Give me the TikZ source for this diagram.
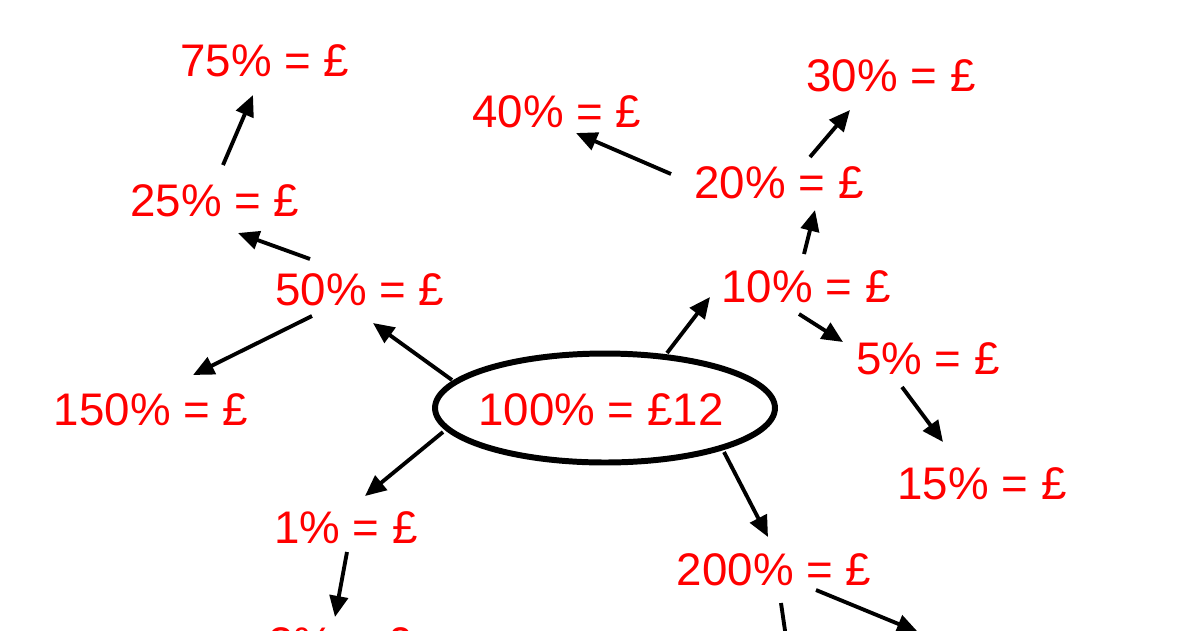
\documentclass[tikz,border=0pt]{standalone}
\usepackage{fontspec}
\setmainfont{Liberation Sans}
\usetikzlibrary{shapes.geometric,arrows.meta}

\begin{document}
\begin{tikzpicture}[x=0.02cm,y=-0.02cm,
    lbl/.style={text=red, font=\fontsize{26}{30}\selectfont, inner sep=0pt, outer sep=0pt},
    arr/.style={line width=2.2pt, -{Triangle[length=12pt,width=10.5pt]}}]
            \useasboundingbox (0,0) rectangle (1200,630);
            \clip (0,0) rectangle (1200,630);
            \node[ellipse, draw, line width=3.4pt, minimum width=6.8cm, minimum height=2.18cm, inner sep=0pt] (whole) at (605,408) {};
            \node[lbl] (hundred) at (601,410) {100\% = £12};
            \node[lbl] (n75) at (265,61) {75\% = £};
            \node[lbl] (n25) at (215,201) {25\% = £};
            \node[lbl] (n50) at (360,290) {50\% = £};
            \node[lbl] (n150) at (151,410) {150\% = £};
            \node[lbl] (n40) at (557,112) {40\% = £};
            \node[lbl] (n30) at (891,76) {30\% = £};
            \node[lbl] (n20) at (779,183) {20\% = £};
            \node[lbl] (n10) at (806,287) {10\% = £};
            \node[lbl] (n5) at (928,359) {5\% = £};
            \node[lbl] (n15) at (982,484) {15\% = £};
            \node[lbl] (n1) at (346,528) {1\% = £};
            \node[lbl] (n200) at (774,570) {200\% = £};
            \node[lbl] (n2) at (340,644) {2\% = £};
            \coordinate (offdown) at (790,665);
            \coordinate (offright) at (918,632);
            \draw[arr] ([shift={(8,-36)}]n25.center) -- ([shift={(-12,34)}]n75.center);
            \draw[arr] ([shift={(-50,-31)}]n50.center) -- ([shift={(23,32)}]n25.center);
            \draw[arr] ([shift={(-48,26)}]n50.center) -- ([shift={(42,-35)}]n150.center);
            \draw[arr] ([shift={(-153,-28)}]whole.center) -- ([shift={(13,33)}]n50.center);
            \draw[arr] ([shift={(62,-55)}]whole.center) -- ([shift={(-96,10)}]n10.center);
            \draw[arr] ([shift={(-2,-33)}]n10.center) -- ([shift={(36,27)}]n20.center);
            \draw[arr] ([shift={(31,-26)}]n20.center) -- ([shift={(-41,34)}]n30.center);
            \draw[arr] ([shift={(-108,-9)}]n20.center) -- ([shift={(19,21)}]n40.center);
            \draw[arr] ([shift={(-7,27)}]n10.center) -- ([shift={(-85,-17)}]n5.center);
            \draw[arr] ([shift={(-26,28)}]n5.center) -- ([shift={(-39,-42)}]n15.center);
            \draw[arr] ([shift={(119,44)}]whole.center) -- ([shift={(-6,-33)}]n200.center);
            \draw[arr] ([shift={(-162,24)}]whole.center) -- ([shift={(19,-32)}]n1.center);
            \draw[arr] ([shift={(1,24)}]n1.center) -- ([shift={(-5,-27)}]n2.center);
            \draw[arr] ([shift={(7,33)}]n200.center) -- (offdown);
            \draw[arr] ([shift={(42,20)}]n200.center) -- (offright);
\end{tikzpicture}
\end{document}
